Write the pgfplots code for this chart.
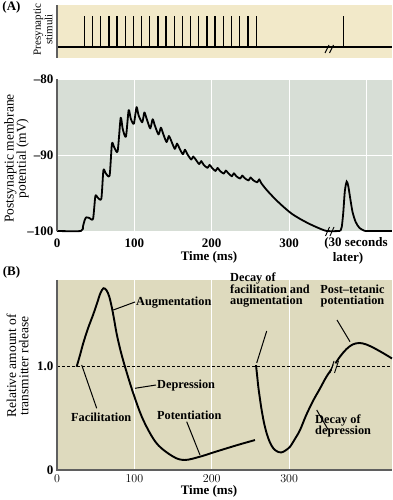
\documentclass[border=0pt]{standalone}
\usepackage{fontspec}
\setmainfont{Liberation Serif}
\usepackage{pgfplots}
\pgfplotsset{compat=1.18}
\definecolor{bgA}{RGB}{242,233,201}
\definecolor{bgM}{RGB}{215,222,214}
\definecolor{bgB}{RGB}{222,218,190}
\definecolor{spine}{RGB}{95,95,95}
\newcommand\tfont{\bfseries\fontsize{13}{13}\selectfont}
\newcommand\afont{\bfseries\fontsize{12.3}{11.8}\selectfont}
\newcommand\lfont{\fontsize{13.5}{12.3}\selectfont}
\begin{document}
\begin{tikzpicture}[x=1pt,y=1pt]
\path[use as bounding box] (0,0) rectangle (392,500);
% ---------------- Panel A: stimuli
\begin{axis}[at={(57pt,442pt)}, anchor=south west, scale only axis,
  width=335pt, height=53pt, xmin=0, xmax=433, ymin=-0.355, ymax=1.355,
  axis line style={draw=none}, xtick=\empty, ytick=\empty,
  axis background/.style={fill=bgA}, clip=false, unbounded coords=jump]
\addplot[black, line width=1.3pt, mark=none] coordinates {
(35.3,0) (35.3,1) (35.3,nan) (46.1,0) (46.1,1) (46.1,nan)
(56.5,0) (56.5,1) (56.5,nan) (67.2,0) (67.2,1) (67.2,nan)
(77.6,0) (77.6,1) (77.6,nan) (88.3,0) (88.3,1) (88.3,nan)
(98.6,0) (98.6,1) (98.6,nan) (109.5,0) (109.5,1) (109.5,nan)
(119.8,0) (119.8,1) (119.8,nan) (130.5,0) (130.5,1) (130.5,nan)
(140.9,0) (140.9,1) (140.9,nan) (151.6,0) (151.6,1) (151.6,nan)
(162.0,0) (162.0,1) (162.0,nan) (172.8,0) (172.8,1) (172.8,nan)
(183.1,0) (183.1,1) (183.1,nan) (193.9,0) (193.9,1) (193.9,nan)
(204.2,0) (204.2,1) (204.2,nan) (214.9,0) (214.9,1) (214.9,nan)
(225.3,0) (225.3,1) (225.3,nan) (236.1,0) (236.1,1) (236.1,nan)
(246.9,0) (246.9,1) (246.9,nan) (258.1,0) (258.1,1) (258.1,nan)
(370,0) (370,1)};
\addplot[black, line width=1.8pt, mark=none] coordinates {(0,0) (433,0)};
\draw[spine, line width=1.8pt] (rel axis cs:0,0) -- (rel axis cs:0,1);
\end{axis}
% ---------------- Panel A: postsynaptic potential
\begin{axis}[at={(57pt,269pt)}, anchor=south west, scale only axis,
  width=335pt, height=152pt, xmin=0, xmax=433, ymin=-100, ymax=-80,
  axis line style={draw=none},
  xtick={0,100,200,300,400}, xticklabels={0,100,200,300,{}},
  ytick={-100,-90,-80}, yticklabels={\textendash100,\textendash90,\textendash80},
  major tick length=0pt, grid=major, major grid style={white, line width=0.9pt},
  axis background/.style={fill=bgM},
  tick label style={font=\tfont},
  xticklabel style={anchor=center, yshift=-12.3pt},
  clip=false]
\addplot[black, line width=1.8pt, mark=none, smooth, tension=0.4, line join=round] coordinates {
(0,-100) (31,-100) (33.5,-99.4) (36,-98.5) (38,-98.2) (42,-98.3)
(46.6,-98.4) (49.6,-95.4) (52.6,-95.6)
(57.3,-95.75) (60,-92.0) (63,-92.4)
(68,-92.7) (71,-88.5) (74,-89.0)
(78.4,-89.5) (82.3,-85.1) (85,-86.6)
(89.1,-87.6) (92.6,-84.1) (95.3,-85.2)
(99.3,-85.9) (102.8,-83.7) (105.5,-84.8)
(110.2,-85.7) (112.9,-84.4) (115.8,-85.2)
(120.5,-86.5) (123.6,-85.3) (126.4,-86.1)
(131.2,-87.3) (134.3,-86.4) (137.2,-87.2)
(141.6,-88.3) (144.6,-87.5) (147.5,-88.1)
(152.3,-89.2) (155.1,-88.5) (158.2,-89.1)
(162.7,-89.9) (165.4,-89.3) (168.5,-89.9)
(173.5,-90.6) (176.1,-90.2) (179.3,-90.6)
(183.8,-91.2) (186.4,-90.8) (189.6,-91.3)
(194.6,-91.7) (197.2,-91.3) (200.4,-91.7)
(204.9,-92.1) (207.5,-91.7) (210.7,-92.1)
(215.6,-92.45) (218.2,-92.05) (221.4,-92.4)
(226.0,-92.8) (228.6,-92.4) (231.8,-92.8)
(236.8,-93.1) (239.4,-92.7) (242.6,-93.05)
(247.6,-93.35) (250.2,-92.95) (253.4,-93.3)
(258.8,-93.6) (261.4,-93.2)
(264,-93.7) (271,-94.6) (282,-95.8) (292.5,-96.8) (303,-97.7)
(314,-98.4) (325,-99.0) (335.6,-99.5) (348.6,-100) (366,-100)};
\addplot[black, line width=1.8pt, mark=none, smooth, tension=0.45] coordinates {
(366,-100) (368,-99.5) (370,-97.6) (372,-94.8) (374.4,-93.5) (376.5,-94.1)
(379,-95.7) (382,-97.5) (386,-98.8) (391,-99.6) (398,-100)};
\addplot[black, line width=1.8pt, mark=none] coordinates {(398,-100) (433,-100)};
\draw[spine, line width=1.8pt] (rel axis cs:0,0) -- (rel axis cs:0,1);
\end{axis}
% ---------------- Panel B
\begin{axis}[at={(57pt,30pt)}, anchor=south west, scale only axis,
  width=335pt, height=190pt, xmin=0, xmax=433, ymin=0, ymax=1.84,
  axis line style={draw=none},
  xtick={0,100,200,300}, ytick={0,1}, yticklabels={0,1.0},
  major tick length=0pt, xmajorgrids=true, major grid style={white, line width=0.9pt},
  axis background/.style={fill=bgB},
  tick label style={font=\tfont},
  xticklabel style={anchor=center, yshift=-8.3pt},
  clip=false]
\addplot[black, line width=0.9pt, dash pattern=on 3pt off 2pt, mark=none] coordinates {(0,1) (433,1)};
\addplot[black, line width=1.9pt, mark=none, smooth, tension=0.55] coordinates {
(25.4,1.0) (30,1.12) (34,1.23) (40,1.37) (47,1.51) (52,1.62) (56,1.71) (60,1.76)
(64,1.74) (67.5,1.68) (71,1.57) (74,1.45) (77.1,1.32) (82,1.16) (87.9,1.0)
(98.6,0.742) (111.5,0.484) (128.8,0.258) (150.3,0.129) (165.4,0.097)
(184.8,0.129) (200,0.165) (219.3,0.21) (237,0.25) (255.9,0.29)};
\addplot[black, line width=1.9pt, mark=none, smooth, tension=0.55] coordinates {
(257.2,1.016) (258.6,0.92) (260.2,0.806) (262.3,0.69) (264.5,0.581) (267.5,0.46)
(271,0.355) (275,0.27) (279.6,0.21) (285,0.178) (290.4,0.171) (295.5,0.19)
(301.2,0.226) (307.5,0.3) (314.1,0.387) (322,0.53) (331,0.67) (340,0.79)
(348,0.9) (357,1.0) (366,1.1) (374,1.17) (382,1.215) (391,1.23) (400,1.215)
(410,1.18) (422,1.13) (433,1.08)};
\draw[spine, line width=1.8pt] (rel axis cs:0,1) -- (rel axis cs:0,0) -- (rel axis cs:1,0);
\end{axis}
% ---------------- break marks
\draw[black, line width=0.9pt] (325,447) -- (329,455) (329.5,447) -- (333.5,455);
\draw[black, line width=0.9pt] (325.5,264) -- (329.5,273) (330,264) -- (334,273);
\draw[bgB, line width=2.5pt] (333,129.5) -- (335.5,136.5);
\draw[black, line width=0.9pt] (330,127) -- (334,139) (334.5,127) -- (338.5,139);
% ---------------- labels
\node[font=\bfseries\fontsize{13}{13}\selectfont] at (11.5,492.5) {(A)};
\node[font=\bfseries\fontsize{13}{13}\selectfont] at (11.5,227.5) {(B)};
\node[font=\fontsize{11}{11.5}\selectfont, rotate=90, align=center] at (43,470.5) {Presynaptic\\stimuli};
\node[font=\lfont, rotate=90, align=center] at (16.5,341.5) {Postsynaptic membrane\\potential (mV)};
\node[font=\lfont, rotate=90, align=center] at (17.5,134.3) {Relative amount of\\transmitter release};
\node[font=\tfont] at (209,242.3) {Time (ms)};
\node[font=\tfont] at (209,8.3) {Time (ms)};
\node[font=\tfont] at (356,256.7) {(30 seconds};
\node[font=\tfont] at (348,241.7) {later)};
% ---------------- annotations B
\node[font=\afont, anchor=base west, inner sep=0pt] at (136,194.5) {Augmentation};
\node[font=\afont, anchor=base west, inner sep=0pt, align=left] at (230,195) {Decay of\\facilitation and\\augmentation};
\node[font=\afont, anchor=base, inner sep=0pt, align=center] at (352.5,195) {Post\textendash tetanic\\potentiation};
\node[font=\afont, anchor=base west, inner sep=0pt] at (157,111.7) {Depression};
\node[font=\afont, anchor=base west, inner sep=0pt] at (71,78.3) {Facilitation};
\node[font=\afont, anchor=base west, inner sep=0pt] at (157,80) {Potentiation};
\node[font=\afont, anchor=base west, inner sep=0pt, align=left] at (315,65) {Decay of\\depression};
\draw[black, line width=1pt] (113.3,190) -- (135,198);
\draw[black, line width=1pt] (256.7,137) -- (266.7,169);
\draw[black, line width=1pt] (350,158.3) -- (337,180);
\draw[black, line width=1pt] (135,111.7) -- (156,115);
\draw[black, line width=1pt] (81.7,135) -- (96.7,91.7);
\draw[black, line width=1pt] (186.7,78.3) -- (200,45);
\draw[black, line width=1pt] (316.7,90) -- (328.3,70);
\end{tikzpicture}
\end{document}
